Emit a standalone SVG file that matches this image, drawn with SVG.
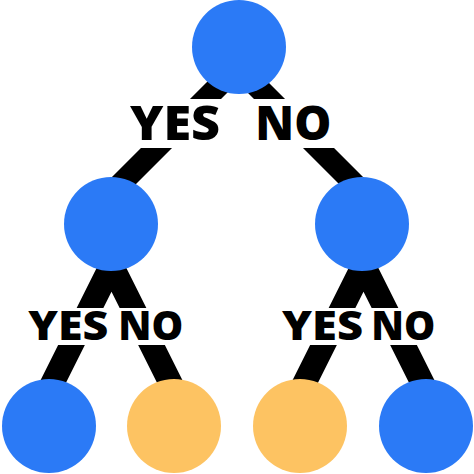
<svg xmlns="http://www.w3.org/2000/svg" width="474" height="474" viewBox="0 0 474 474">
<style>
.blue{fill:#2B7AF6}
.orange{fill:#FDC362}
.conn{fill:none;stroke:#000;stroke-linejoin:miter;stroke-miterlimit:10}
.lbl{font-family:"Open Sans","Noto Sans","DejaVu Sans",sans-serif;font-weight:800;fill:#000;text-anchor:middle}
.bg{fill:#fff}
</style>
<rect width="474" height="474" fill="#fff"/>
<g id="connectors">
<polyline class="conn" stroke-width="22" points="102.5,202 237.5,67 372.5,202"/>
<polyline class="conn" stroke-width="24" points="44,400 111.5,265 179,400"/>
<polyline class="conn" stroke-width="24" points="296,400 363.5,265 431,400"/>
</g>
<g id="labels">
<rect class="bg" x="124" y="99" width="102" height="49"/>
<rect class="bg" x="249" y="99" width="88" height="49"/>
<text class="lbl" x="175" y="140" font-size="48" textLength="90" lengthAdjust="spacingAndGlyphs">YES</text>
<text class="lbl" x="293.3" y="140" font-size="48" textLength="76" lengthAdjust="spacingAndGlyphs">NO</text>
<rect class="bg" x="24" y="308" width="89" height="37"/>
<rect class="bg" x="113" y="308" width="76" height="37"/>
<text class="lbl" x="68.3" y="340" font-size="40" textLength="80" lengthAdjust="spacingAndGlyphs">YES</text>
<text class="lbl" x="150.8" y="340" font-size="40" textLength="65" lengthAdjust="spacingAndGlyphs">NO</text>
<rect class="bg" x="277" y="308" width="90" height="37"/>
<rect class="bg" x="367" y="308" width="72" height="37"/>
<text class="lbl" x="322.5" y="340" font-size="40" textLength="81" lengthAdjust="spacingAndGlyphs">YES</text>
<text class="lbl" x="403.3" y="340" font-size="40" textLength="64" lengthAdjust="spacingAndGlyphs">NO</text>
</g>
<g id="root"><circle class="blue" cx="239" cy="47" r="47"/></g>
<g id="mid-left"><circle class="blue" cx="111" cy="224" r="47"/></g>
<g id="mid-right"><circle class="blue" cx="362" cy="224" r="47"/></g>
<g id="leaf-1"><circle class="blue" cx="49" cy="426" r="47"/></g>
<g id="leaf-2"><circle class="orange" cx="174" cy="426" r="47"/></g>
<g id="leaf-3"><circle class="orange" cx="300" cy="426" r="47"/></g>
<g id="leaf-4"><circle class="blue" cx="426" cy="426" r="47"/></g>
</svg>
